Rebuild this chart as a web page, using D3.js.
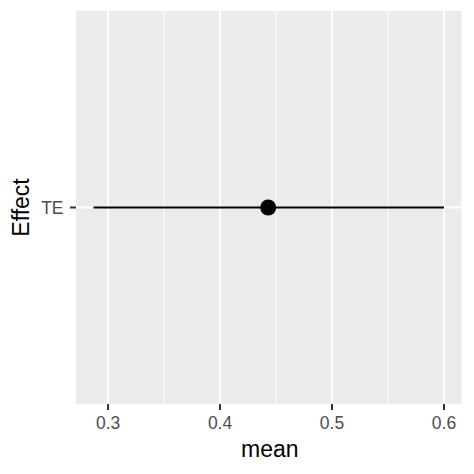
<!DOCTYPE html>
<html><head><meta charset="utf-8">
<script src="https://cdn.jsdelivr.net/npm/d3@7"></script>
<style>body{margin:0;background:#fff;} text{font-family:"Liberation Sans",Arial,sans-serif;}</style>
</head><body>
<svg id="c" width="474" height="474"></svg>
<script>
const effects = ["TE"];
const means = [0.443];
const lowers = [0.287];
const uppers = [0.600];
const xTicks = [0.3, 0.4, 0.5, 0.6];
const xMinor = [0.35, 0.45, 0.55];

const svg = d3.select("#c");
const L = 76, R = 461.5, T = 11, B = 404;
const lo = d3.min(lowers), hi = d3.max(uppers), pad = (hi - lo) * 0.05;
const x = d3.scaleLinear().domain([lo - pad, hi + pad]).range([L, R]);
const y = d3.scaleBand().domain(effects).range([T, B]).paddingInner(0).paddingOuter(0);
const yc = d => y(d) + y.bandwidth() / 2;

svg.append("rect").attr("x", L).attr("y", T).attr("width", R - L).attr("height", B - T).attr("fill", "#ebebeb");
svg.selectAll(".minor").data(xMinor).join("line")
  .attr("x1", d => x(d)).attr("x2", d => x(d)).attr("y1", T).attr("y2", B)
  .attr("stroke", "#fff").attr("stroke-width", 1);
svg.selectAll(".major").data(xTicks).join("line")
  .attr("x1", d => x(d)).attr("x2", d => x(d)).attr("y1", T).attr("y2", B)
  .attr("stroke", "#fff").attr("stroke-width", 2);
svg.selectAll(".ymajor").data(effects).join("line")
  .attr("x1", L).attr("x2", R).attr("y1", d => yc(d)).attr("y2", d => yc(d))
  .attr("stroke", "#fff").attr("stroke-width", 2);

// error bars
svg.selectAll(".eb").data(effects).join("line")
  .attr("x1", (d, i) => x(lowers[i])).attr("x2", (d, i) => x(uppers[i]))
  .attr("y1", d => yc(d)).attr("y2", d => yc(d))
  .attr("stroke", "#000").attr("stroke-width", 2.2);
svg.selectAll(".pt").data(effects).join("circle")
  .attr("cx", (d, i) => x(means[i])).attr("cy", d => yc(d)).attr("r", 8).attr("fill", "#000");

// x axis
const xa = svg.append("g");
xTicks.forEach(t => {
  xa.append("line").attr("x1", x(t)).attr("x2", x(t)).attr("y1", B).attr("y2", B + 6)
    .attr("stroke", "#333").attr("stroke-width", 2);
  xa.append("text").attr("x", x(t)).attr("y", 429).attr("text-anchor", "middle")
    .attr("font-size", 17.5).attr("fill", "#4d4d4d").text(d3.format(".1f")(t));
});
svg.append("text").attr("x", (L + R) / 2 + 1).attr("y", 456.5).attr("text-anchor", "middle")
  .attr("font-size", 23).attr("fill", "#000").text("mean");

// y axis
effects.forEach(e => {
  svg.append("line").attr("x1", L - 6).attr("x2", L).attr("y1", yc(e)).attr("y2", yc(e))
    .attr("stroke", "#333").attr("stroke-width", 2);
  svg.append("text").attr("x", L - 12.5).attr("y", yc(e) + 6.3).attr("text-anchor", "end")
    .attr("font-size", 17.5).attr("fill", "#4d4d4d").text(e);
});
svg.append("text").attr("transform", `translate(28.5,${(T + B) / 2}) rotate(-90)`)
  .attr("text-anchor", "middle").attr("font-size", 23).attr("fill", "#000").text("Effect");
</script>
</body></html>
